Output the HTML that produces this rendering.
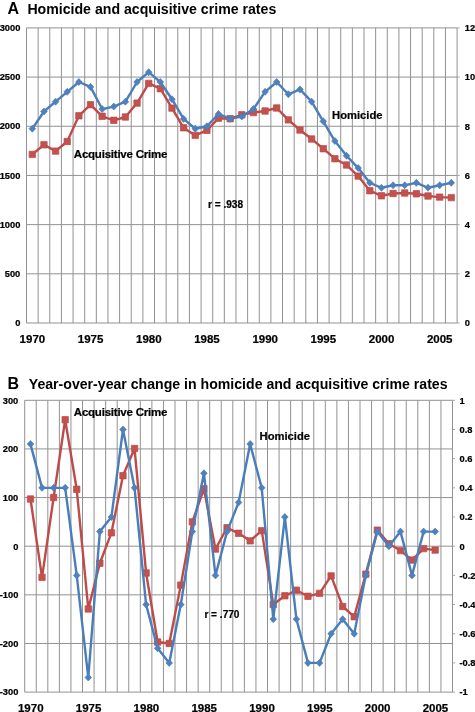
<!DOCTYPE html>
<html lang="en">
<head>
<meta charset="utf-8">
<title>Homicide and acquisitive crime rates</title>
<style>
html,body{margin:0;padding:0;background:#fff;}
body{width:475px;height:712px;overflow:hidden;}
svg{display:block;}
svg text{font-family:"Liberation Sans",Arial,Helvetica,sans-serif;font-weight:bold;fill:#000;}
svg text.s{stroke:#000;stroke-width:0.22px;}
</style>
</head>
<body>
<svg width="475" height="712" viewBox="0 0 475 712">
<rect width="475" height="712" fill="#fff"/>
<path d="M26.5 27.9V323M38.14 27.9V323M49.78 27.9V323M61.41 27.9V323M73.05 27.9V323M84.69 27.9V323M96.33 27.9V323M107.96 27.9V323M119.6 27.9V323M131.24 27.9V323M142.88 27.9V323M154.52 27.9V323M166.15 27.9V323M177.79 27.9V323M189.43 27.9V323M201.07 27.9V323M212.71 27.9V323M224.34 27.9V323M235.98 27.9V323M247.62 27.9V323M259.26 27.9V323M270.89 27.9V323M282.53 27.9V323M294.17 27.9V323M305.81 27.9V323M317.45 27.9V323M329.08 27.9V323M340.72 27.9V323M352.36 27.9V323M364 27.9V323M375.64 27.9V323M387.27 27.9V323M398.91 27.9V323M410.55 27.9V323M422.19 27.9V323M433.82 27.9V323M445.46 27.9V323M457.1 27.9V323M26.5 27.9H457.1M26.5 77.08H457.1M26.5 126.27H457.1M26.5 175.45H457.1M26.5 224.63H457.1M26.5 273.82H457.1M26.5 323H457.1" fill="none" stroke="#929292" stroke-width="1"/>
<path d="M457.1 27.9h2.6M457.1 77.08h2.6M457.1 126.27h2.6M457.1 175.45h2.6M457.1 224.63h2.6M457.1 273.82h2.6M457.1 323h2.6" fill="none" stroke="#a8a8a8" stroke-width="1"/>
<path d="M32.32 154.4 L43.96 144.8 L55.59 151.1 L67.23 141.5 L78.87 115.8 L90.51 104.7 L102.15 116.3 L113.78 120.3 L125.42 117 L137.06 103.1 L148.7 83.4 L160.34 88.7 L171.97 108.1 L183.61 127.8 L195.25 135.4 L206.89 130.3 L218.52 118.2 L230.16 118.7 L241.8 114.8 L253.44 112.6 L265.08 111 L276.71 108 L288.35 119.9 L299.99 130 L311.63 139 L323.26 148.7 L334.9 158.7 L346.54 165 L358.18 176.1 L369.82 190.7 L381.45 195.8 L393.09 193.5 L404.73 193 L416.37 193.8 L428.01 196 L439.64 197.1 L451.28 197.6" fill="none" stroke="#be4b48" stroke-width="2.4" stroke-linejoin="round" stroke-linecap="round"/>
<path d="M29.12 151.2h6.4v6.4h-6.4zM40.76 141.6h6.4v6.4h-6.4zM52.39 147.9h6.4v6.4h-6.4zM64.03 138.3h6.4v6.4h-6.4zM75.67 112.6h6.4v6.4h-6.4zM87.31 101.5h6.4v6.4h-6.4zM98.95 113.1h6.4v6.4h-6.4zM110.58 117.1h6.4v6.4h-6.4zM122.22 113.8h6.4v6.4h-6.4zM133.86 99.9h6.4v6.4h-6.4zM145.5 80.2h6.4v6.4h-6.4zM157.14 85.5h6.4v6.4h-6.4zM168.77 104.9h6.4v6.4h-6.4zM180.41 124.6h6.4v6.4h-6.4zM192.05 132.2h6.4v6.4h-6.4zM203.69 127.1h6.4v6.4h-6.4zM215.32 115h6.4v6.4h-6.4zM226.96 115.5h6.4v6.4h-6.4zM238.6 111.6h6.4v6.4h-6.4zM250.24 109.4h6.4v6.4h-6.4zM261.88 107.8h6.4v6.4h-6.4zM273.51 104.8h6.4v6.4h-6.4zM285.15 116.7h6.4v6.4h-6.4zM296.79 126.8h6.4v6.4h-6.4zM308.43 135.8h6.4v6.4h-6.4zM320.06 145.5h6.4v6.4h-6.4zM331.7 155.5h6.4v6.4h-6.4zM343.34 161.8h6.4v6.4h-6.4zM354.98 172.9h6.4v6.4h-6.4zM366.62 187.5h6.4v6.4h-6.4zM378.25 192.6h6.4v6.4h-6.4zM389.89 190.3h6.4v6.4h-6.4zM401.53 189.8h6.4v6.4h-6.4zM413.17 190.6h6.4v6.4h-6.4zM424.81 192.8h6.4v6.4h-6.4zM436.44 193.9h6.4v6.4h-6.4zM448.08 194.4h6.4v6.4h-6.4z" fill="#c3514e" stroke="#be4b48" stroke-width="0.7"/>
<path d="M32.32 128.73 L43.96 111.51 L55.59 101.67 L67.23 91.84 L78.87 82 L90.51 86.92 L102.15 109.05 L113.78 106.59 L125.42 101.67 L137.06 82 L148.7 72.16 L160.34 82 L171.97 99.22 L183.61 118.89 L195.25 128.73 L206.89 126.27 L218.52 113.97 L230.16 118.89 L241.8 116.43 L253.44 109.05 L265.08 91.84 L276.71 82 L288.35 94.3 L299.99 89.38 L311.63 101.67 L323.26 121.35 L334.9 141.02 L346.54 155.78 L358.18 168.07 L369.82 182.83 L381.45 187.75 L393.09 185.29 L404.73 185.29 L416.37 182.83 L428.01 187.75 L439.64 185.29 L451.28 182.83" fill="none" stroke="#4a7ebb" stroke-width="2.4" stroke-linejoin="round" stroke-linecap="round"/>
<path d="M32.32 125.23l3.3 3.5l-3.3 3.5l-3.3 -3.5zM43.96 108.01l3.3 3.5l-3.3 3.5l-3.3 -3.5zM55.59 98.17l3.3 3.5l-3.3 3.5l-3.3 -3.5zM67.23 88.34l3.3 3.5l-3.3 3.5l-3.3 -3.5zM78.87 78.5l3.3 3.5l-3.3 3.5l-3.3 -3.5zM90.51 83.42l3.3 3.5l-3.3 3.5l-3.3 -3.5zM102.15 105.55l3.3 3.5l-3.3 3.5l-3.3 -3.5zM113.78 103.09l3.3 3.5l-3.3 3.5l-3.3 -3.5zM125.42 98.17l3.3 3.5l-3.3 3.5l-3.3 -3.5zM137.06 78.5l3.3 3.5l-3.3 3.5l-3.3 -3.5zM148.7 68.66l3.3 3.5l-3.3 3.5l-3.3 -3.5zM160.34 78.5l3.3 3.5l-3.3 3.5l-3.3 -3.5zM171.97 95.72l3.3 3.5l-3.3 3.5l-3.3 -3.5zM183.61 115.39l3.3 3.5l-3.3 3.5l-3.3 -3.5zM195.25 125.23l3.3 3.5l-3.3 3.5l-3.3 -3.5zM206.89 122.77l3.3 3.5l-3.3 3.5l-3.3 -3.5zM218.52 110.47l3.3 3.5l-3.3 3.5l-3.3 -3.5zM230.16 115.39l3.3 3.5l-3.3 3.5l-3.3 -3.5zM241.8 112.93l3.3 3.5l-3.3 3.5l-3.3 -3.5zM253.44 105.55l3.3 3.5l-3.3 3.5l-3.3 -3.5zM265.08 88.34l3.3 3.5l-3.3 3.5l-3.3 -3.5zM276.71 78.5l3.3 3.5l-3.3 3.5l-3.3 -3.5zM288.35 90.8l3.3 3.5l-3.3 3.5l-3.3 -3.5zM299.99 85.88l3.3 3.5l-3.3 3.5l-3.3 -3.5zM311.63 98.17l3.3 3.5l-3.3 3.5l-3.3 -3.5zM323.26 117.85l3.3 3.5l-3.3 3.5l-3.3 -3.5zM334.9 137.52l3.3 3.5l-3.3 3.5l-3.3 -3.5zM346.54 152.28l3.3 3.5l-3.3 3.5l-3.3 -3.5zM358.18 164.57l3.3 3.5l-3.3 3.5l-3.3 -3.5zM369.82 179.33l3.3 3.5l-3.3 3.5l-3.3 -3.5zM381.45 184.25l3.3 3.5l-3.3 3.5l-3.3 -3.5zM393.09 181.79l3.3 3.5l-3.3 3.5l-3.3 -3.5zM404.73 181.79l3.3 3.5l-3.3 3.5l-3.3 -3.5zM416.37 179.33l3.3 3.5l-3.3 3.5l-3.3 -3.5zM428.01 184.25l3.3 3.5l-3.3 3.5l-3.3 -3.5zM439.64 181.79l3.3 3.5l-3.3 3.5l-3.3 -3.5zM451.28 179.33l3.3 3.5l-3.3 3.5l-3.3 -3.5z" fill="#4f81bd" stroke="#4a7ebb" stroke-width="0.7" stroke-linejoin="miter"/>
<text class="s" x="20.3" y="31.1" font-size="9.3" text-anchor="end">3000</text>
<text class="s" x="20.3" y="80.28" font-size="9.3" text-anchor="end">2500</text>
<text class="s" x="20.3" y="129.47" font-size="9.3" text-anchor="end">2000</text>
<text class="s" x="20.3" y="178.65" font-size="9.3" text-anchor="end">1500</text>
<text class="s" x="20.3" y="227.83" font-size="9.3" text-anchor="end">1000</text>
<text class="s" x="20.3" y="277.02" font-size="9.3" text-anchor="end">500</text>
<text class="s" x="20.3" y="326.2" font-size="9.3" text-anchor="end">0</text>
<text class="s" x="464.8" y="31.2" font-size="9.3" text-anchor="start">12</text>
<text class="s" x="464.8" y="80.38" font-size="9.3" text-anchor="start">10</text>
<text class="s" x="464.8" y="129.57" font-size="9.3" text-anchor="start">8</text>
<text class="s" x="464.8" y="178.75" font-size="9.3" text-anchor="start">6</text>
<text class="s" x="464.8" y="227.93" font-size="9.3" text-anchor="start">4</text>
<text class="s" x="464.8" y="277.12" font-size="9.3" text-anchor="start">2</text>
<text class="s" x="464.8" y="326.3" font-size="9.3" text-anchor="start">0</text>
<text class="s" x="32.42" y="343.2" font-size="11.5" text-anchor="middle">1970</text>
<text class="s" x="90.61" y="343.2" font-size="11.5" text-anchor="middle">1975</text>
<text class="s" x="148.8" y="343.2" font-size="11.5" text-anchor="middle">1980</text>
<text class="s" x="206.99" y="343.2" font-size="11.5" text-anchor="middle">1985</text>
<text class="s" x="265.18" y="343.2" font-size="11.5" text-anchor="middle">1990</text>
<text class="s" x="323.36" y="343.2" font-size="11.5" text-anchor="middle">1995</text>
<text class="s" x="381.55" y="343.2" font-size="11.5" text-anchor="middle">2000</text>
<text class="s" x="439.74" y="343.2" font-size="11.5" text-anchor="middle">2005</text>
<text x="7.6" y="14.1" font-size="16" text-anchor="start">A</text>
<text x="27.4" y="14.1" font-size="14.14" text-anchor="start">Homicide and acquisitive crime rates</text>
<text class="s" x="73.8" y="158.4" font-size="11.5" text-anchor="start" textLength="93.6" lengthAdjust="spacing">Acquisitive Crime</text>
<text class="s" x="332.1" y="118.7" font-size="11.2" text-anchor="start">Homicide</text>
<text class="s" x="208" y="208" font-size="10.1" text-anchor="start">r = .938</text>
<path d="M24.7 400.3V692.1M36.26 400.3V692.1M47.82 400.3V692.1M59.39 400.3V692.1M70.95 400.3V692.1M82.51 400.3V692.1M94.07 400.3V692.1M105.64 400.3V692.1M117.2 400.3V692.1M128.76 400.3V692.1M140.32 400.3V692.1M151.88 400.3V692.1M163.45 400.3V692.1M175.01 400.3V692.1M186.57 400.3V692.1M198.13 400.3V692.1M209.69 400.3V692.1M221.26 400.3V692.1M232.82 400.3V692.1M244.38 400.3V692.1M255.94 400.3V692.1M267.51 400.3V692.1M279.07 400.3V692.1M290.63 400.3V692.1M302.19 400.3V692.1M313.75 400.3V692.1M325.32 400.3V692.1M336.88 400.3V692.1M348.44 400.3V692.1M360 400.3V692.1M371.56 400.3V692.1M383.13 400.3V692.1M394.69 400.3V692.1M406.25 400.3V692.1M417.81 400.3V692.1M429.38 400.3V692.1M440.94 400.3V692.1M452.5 400.3V692.1M24.7 400.3H452.5M24.7 448.93H452.5M24.7 497.57H452.5M24.7 546.2H452.5M24.7 594.83H452.5M24.7 643.47H452.5M24.7 692.1H452.5" fill="none" stroke="#929292" stroke-width="1"/>
<path d="M452.5 400.3h2.6M452.5 429.48h2.6M452.5 458.66h2.6M452.5 487.84h2.6M452.5 517.02h2.6M452.5 546.2h2.6M452.5 575.38h2.6M452.5 604.56h2.6M452.5 633.74h2.6M452.5 662.92h2.6M452.5 692.1h2.6" fill="none" stroke="#a8a8a8" stroke-width="1"/>
<path d="M30.48 499.03 L42.04 577.33 L53.61 497.57 L65.17 419.75 L76.73 489.3 L88.29 608.94 L99.85 563.22 L111.42 532.83 L122.98 475.68 L134.54 448.45 L146.1 572.95 L157.66 642.01 L169.23 643.47 L180.79 585.11 L192.35 521.88 L203.91 488.81 L215.48 549.12 L227.04 527.72 L238.6 533.31 L250.16 540.85 L261.72 530.64 L273.29 604.56 L284.85 595.81 L296.41 590.21 L307.97 596.29 L319.54 593.37 L331.1 575.87 L342.66 606.51 L354.22 616.72 L365.78 574.16 L377.35 530.15 L388.91 543.77 L400.47 550.58 L412.03 560.06 L423.59 548.63 L435.16 550.09" fill="none" stroke="#be4b48" stroke-width="2.4" stroke-linejoin="round" stroke-linecap="round"/>
<path d="M27.28 495.83h6.4v6.4h-6.4zM38.84 574.13h6.4v6.4h-6.4zM50.41 494.37h6.4v6.4h-6.4zM61.97 416.55h6.4v6.4h-6.4zM73.53 486.1h6.4v6.4h-6.4zM85.09 605.74h6.4v6.4h-6.4zM96.65 560.02h6.4v6.4h-6.4zM108.22 529.63h6.4v6.4h-6.4zM119.78 472.48h6.4v6.4h-6.4zM131.34 445.25h6.4v6.4h-6.4zM142.9 569.75h6.4v6.4h-6.4zM154.46 638.81h6.4v6.4h-6.4zM166.03 640.27h6.4v6.4h-6.4zM177.59 581.91h6.4v6.4h-6.4zM189.15 518.68h6.4v6.4h-6.4zM200.71 485.61h6.4v6.4h-6.4zM212.28 545.92h6.4v6.4h-6.4zM223.84 524.52h6.4v6.4h-6.4zM235.4 530.11h6.4v6.4h-6.4zM246.96 537.65h6.4v6.4h-6.4zM258.52 527.44h6.4v6.4h-6.4zM270.09 601.36h6.4v6.4h-6.4zM281.65 592.61h6.4v6.4h-6.4zM293.21 587.01h6.4v6.4h-6.4zM304.77 593.09h6.4v6.4h-6.4zM316.34 590.17h6.4v6.4h-6.4zM327.9 572.67h6.4v6.4h-6.4zM339.46 603.31h6.4v6.4h-6.4zM351.02 613.52h6.4v6.4h-6.4zM362.58 570.96h6.4v6.4h-6.4zM374.15 526.95h6.4v6.4h-6.4zM385.71 540.57h6.4v6.4h-6.4zM397.27 547.38h6.4v6.4h-6.4zM408.83 556.86h6.4v6.4h-6.4zM420.39 545.43h6.4v6.4h-6.4zM431.96 546.89h6.4v6.4h-6.4z" fill="#c3514e" stroke="#be4b48" stroke-width="0.7"/>
<path d="M30.48 444.07 L42.04 487.84 L53.61 487.84 L65.17 487.84 L76.73 575.38 L88.29 677.51 L99.85 531.61 L111.42 517.02 L122.98 429.48 L134.54 487.84 L146.1 604.56 L157.66 648.33 L169.23 662.92 L180.79 604.56 L192.35 531.61 L203.91 473.25 L215.48 575.38 L227.04 531.61 L238.6 502.43 L250.16 444.07 L261.72 487.84 L273.29 619.15 L284.85 517.02 L296.41 619.15 L307.97 662.92 L319.54 662.92 L331.1 633.74 L342.66 619.15 L354.22 633.74 L365.78 575.38 L377.35 531.61 L388.91 546.2 L400.47 531.61 L412.03 575.38 L423.59 531.61 L435.16 531.61" fill="none" stroke="#4a7ebb" stroke-width="2.4" stroke-linejoin="round" stroke-linecap="round"/>
<path d="M30.48 440.57l3.3 3.5l-3.3 3.5l-3.3 -3.5zM42.04 484.34l3.3 3.5l-3.3 3.5l-3.3 -3.5zM53.61 484.34l3.3 3.5l-3.3 3.5l-3.3 -3.5zM65.17 484.34l3.3 3.5l-3.3 3.5l-3.3 -3.5zM76.73 571.88l3.3 3.5l-3.3 3.5l-3.3 -3.5zM88.29 674.01l3.3 3.5l-3.3 3.5l-3.3 -3.5zM99.85 528.11l3.3 3.5l-3.3 3.5l-3.3 -3.5zM111.42 513.52l3.3 3.5l-3.3 3.5l-3.3 -3.5zM122.98 425.98l3.3 3.5l-3.3 3.5l-3.3 -3.5zM134.54 484.34l3.3 3.5l-3.3 3.5l-3.3 -3.5zM146.1 601.06l3.3 3.5l-3.3 3.5l-3.3 -3.5zM157.66 644.83l3.3 3.5l-3.3 3.5l-3.3 -3.5zM169.23 659.42l3.3 3.5l-3.3 3.5l-3.3 -3.5zM180.79 601.06l3.3 3.5l-3.3 3.5l-3.3 -3.5zM192.35 528.11l3.3 3.5l-3.3 3.5l-3.3 -3.5zM203.91 469.75l3.3 3.5l-3.3 3.5l-3.3 -3.5zM215.48 571.88l3.3 3.5l-3.3 3.5l-3.3 -3.5zM227.04 528.11l3.3 3.5l-3.3 3.5l-3.3 -3.5zM238.6 498.93l3.3 3.5l-3.3 3.5l-3.3 -3.5zM250.16 440.57l3.3 3.5l-3.3 3.5l-3.3 -3.5zM261.72 484.34l3.3 3.5l-3.3 3.5l-3.3 -3.5zM273.29 615.65l3.3 3.5l-3.3 3.5l-3.3 -3.5zM284.85 513.52l3.3 3.5l-3.3 3.5l-3.3 -3.5zM296.41 615.65l3.3 3.5l-3.3 3.5l-3.3 -3.5zM307.97 659.42l3.3 3.5l-3.3 3.5l-3.3 -3.5zM319.54 659.42l3.3 3.5l-3.3 3.5l-3.3 -3.5zM331.1 630.24l3.3 3.5l-3.3 3.5l-3.3 -3.5zM342.66 615.65l3.3 3.5l-3.3 3.5l-3.3 -3.5zM354.22 630.24l3.3 3.5l-3.3 3.5l-3.3 -3.5zM365.78 571.88l3.3 3.5l-3.3 3.5l-3.3 -3.5zM377.35 528.11l3.3 3.5l-3.3 3.5l-3.3 -3.5zM388.91 542.7l3.3 3.5l-3.3 3.5l-3.3 -3.5zM400.47 528.11l3.3 3.5l-3.3 3.5l-3.3 -3.5zM412.03 571.88l3.3 3.5l-3.3 3.5l-3.3 -3.5zM423.59 528.11l3.3 3.5l-3.3 3.5l-3.3 -3.5zM435.16 528.11l3.3 3.5l-3.3 3.5l-3.3 -3.5z" fill="#4f81bd" stroke="#4a7ebb" stroke-width="0.7" stroke-linejoin="miter"/>
<text class="s" x="18.3" y="403.6" font-size="9.3" text-anchor="end">300</text>
<text class="s" x="18.3" y="452.23" font-size="9.3" text-anchor="end">200</text>
<text class="s" x="18.3" y="500.87" font-size="9.3" text-anchor="end">100</text>
<text class="s" x="18.3" y="549.5" font-size="9.3" text-anchor="end">0</text>
<text class="s" x="18.3" y="598.13" font-size="9.3" text-anchor="end">-100</text>
<text class="s" x="18.3" y="646.77" font-size="9.3" text-anchor="end">-200</text>
<text class="s" x="18.3" y="695.4" font-size="9.3" text-anchor="end">-300</text>
<text class="s" x="459.5" y="403.6" font-size="9.3" text-anchor="start">1</text>
<text class="s" x="459.5" y="432.78" font-size="9.3" text-anchor="start">0.8</text>
<text class="s" x="459.5" y="461.96" font-size="9.3" text-anchor="start">0.6</text>
<text class="s" x="459.5" y="491.14" font-size="9.3" text-anchor="start">0.4</text>
<text class="s" x="459.5" y="520.32" font-size="9.3" text-anchor="start">0.2</text>
<text class="s" x="459.5" y="549.5" font-size="9.3" text-anchor="start">0</text>
<text class="s" x="459.5" y="578.68" font-size="9.3" text-anchor="start">-0.2</text>
<text class="s" x="459.5" y="607.86" font-size="9.3" text-anchor="start">-0.4</text>
<text class="s" x="459.5" y="637.04" font-size="9.3" text-anchor="start">-0.6</text>
<text class="s" x="459.5" y="666.22" font-size="9.3" text-anchor="start">-0.8</text>
<text class="s" x="459.5" y="695.4" font-size="9.3" text-anchor="start">-1</text>
<text class="s" x="30.78" y="712" font-size="11.5" text-anchor="middle">1970</text>
<text class="s" x="88.59" y="712" font-size="11.5" text-anchor="middle">1975</text>
<text class="s" x="146.4" y="712" font-size="11.5" text-anchor="middle">1980</text>
<text class="s" x="204.21" y="712" font-size="11.5" text-anchor="middle">1985</text>
<text class="s" x="262.02" y="712" font-size="11.5" text-anchor="middle">1990</text>
<text class="s" x="319.84" y="712" font-size="11.5" text-anchor="middle">1995</text>
<text class="s" x="377.65" y="712" font-size="11.5" text-anchor="middle">2000</text>
<text class="s" x="435.46" y="712" font-size="11.5" text-anchor="middle">2005</text>
<text x="7.6" y="388.5" font-size="16" text-anchor="start">B</text>
<text x="28.8" y="388.5" font-size="14.12" text-anchor="start">Year-over-year change in homicide and acquisitive crime rates</text>
<text class="s" x="73.8" y="416.3" font-size="11.5" text-anchor="start" textLength="93.6" lengthAdjust="spacing">Acquisitive Crime</text>
<text class="s" x="259.6" y="439.8" font-size="11.2" text-anchor="start">Homicide</text>
<text class="s" x="204.4" y="618.3" font-size="10.1" text-anchor="start">r = .770</text>
</svg>
</body>
</html>
